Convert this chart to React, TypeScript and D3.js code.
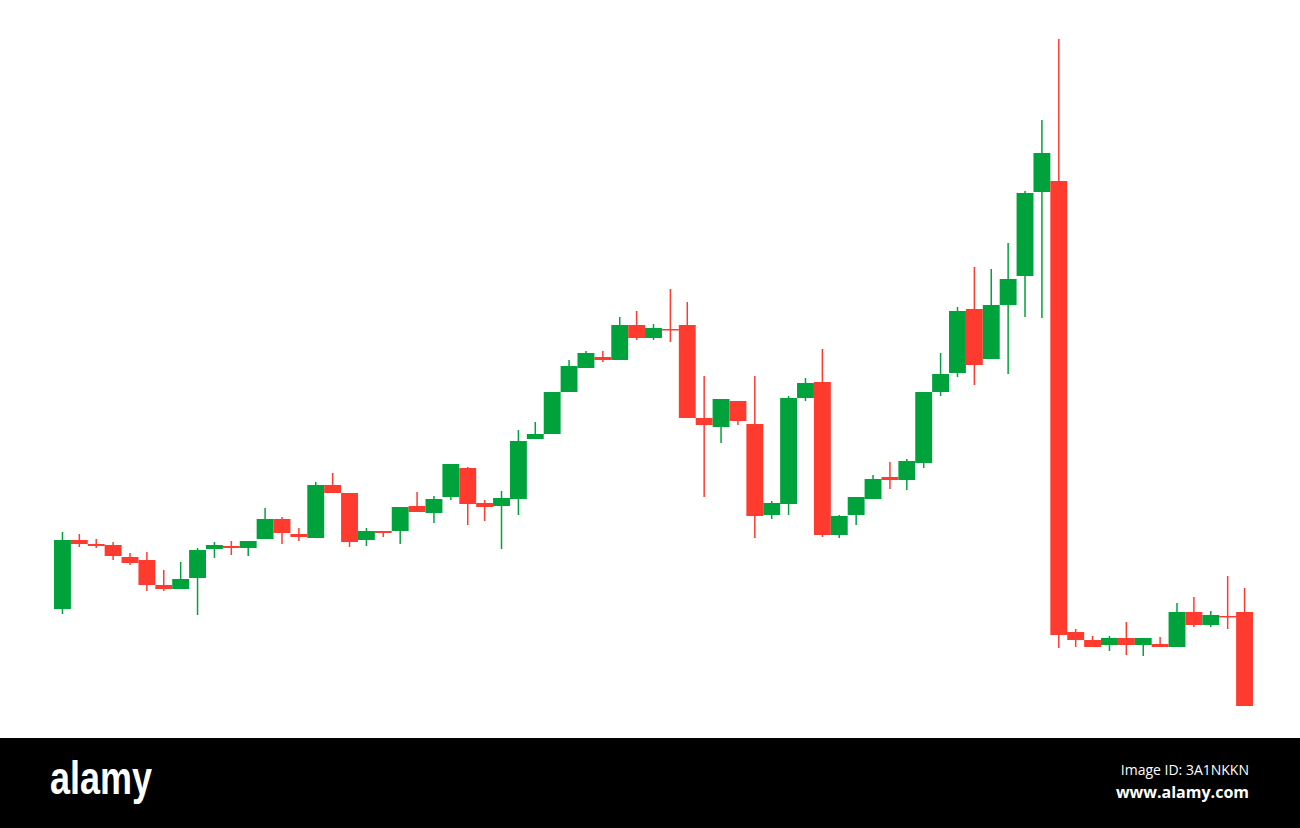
import { useEffect, useRef } from "react";
import * as d3 from "d3";

// OHLC values, one entry per session
const OPEN = [
  15.1, 22.0, 21.6, 21.5, 20.3, 20.0, 17.5, 17.1, 18.2, 21.1,
  21.4, 21.2, 22.1, 24.1, 22.6, 22.2, 27.5, 26.7, 22.0, 22.9,
  22.9, 25.4, 24.7, 26.3, 29.2, 25.7, 25.4, 26.1, 32.1, 32.6,
  36.8, 39.2, 40.3, 40.0, 43.5, 42.2, 43.1, 43.5, 34.2, 33.3,
  35.9, 33.6, 24.5, 25.6, 36.2, 37.8, 22.5, 24.5, 26.1, 28.3,
  28.0, 29.7, 36.8, 38.7, 45.1, 40.1, 45.5, 48.4, 56.8, 57.9,
  12.8, 12.0, 11.5, 12.2, 11.5, 11.6, 11.3, 14.8, 13.5, 14.4,
  14.8,
];
const HIGH = [
  22.8, 22.6, 22.1, 21.8, 20.7, 20.8, 19.0, 19.8, 21.2, 21.8,
  21.9, 21.9, 25.2, 24.3, 23.2, 27.8, 28.7, 26.7, 23.2, 22.9,
  25.3, 26.8, 26.4, 29.6, 29.3, 26.0, 26.9, 33.0, 33.8, 36.8,
  40.0, 40.9, 40.9, 44.3, 44.9, 43.6, 47.1, 45.8, 38.4, 36.1,
  35.9, 38.4, 25.9, 36.4, 38.2, 41.1, 24.5, 26.3, 28.5, 29.8,
  30.1, 36.8, 40.7, 45.3, 49.3, 49.1, 51.7, 56.9, 64.0, 72.1,
  13.1, 12.4, 12.4, 13.8, 12.2, 12.3, 15.7, 16.3, 14.9, 18.4,
  17.2,
];
const LOW = [
  14.6, 21.3, 21.2, 20.0, 19.5, 16.9, 16.9, 17.1, 14.5, 20.2,
  20.5, 20.4, 22.1, 21.6, 21.9, 22.2, 26.7, 21.3, 21.4, 22.3,
  21.6, 24.8, 23.7, 26.0, 23.5, 23.9, 21.1, 24.5, 32.1, 32.6,
  36.8, 39.2, 39.8, 40.0, 42.0, 42.0, 41.8, 34.2, 26.3, 31.7,
  33.5, 22.2, 24.1, 24.5, 35.9, 22.3, 22.2, 23.5, 26.1, 27.1,
  27.0, 29.2, 36.4, 38.3, 37.5, 40.1, 38.6, 44.3, 44.2, 11.2,
  11.3, 11.3, 10.9, 10.5, 10.4, 11.3, 11.3, 13.3, 13.3, 13.1,
  5.4,
];
const CLOSE = [
  22.0, 21.6, 21.4, 20.4, 19.7, 17.5, 17.1, 18.1, 21.0, 21.5,
  21.2, 21.9, 24.1, 22.7, 22.3, 27.5, 26.7, 21.8, 22.9, 22.7,
  25.3, 24.8, 26.1, 29.6, 25.6, 25.3, 26.2, 31.9, 32.6, 36.8,
  39.4, 40.7, 40.0, 43.5, 42.2, 43.2, 43.0, 34.2, 33.5, 36.1,
  33.9, 24.4, 25.7, 36.2, 37.7, 22.5, 24.4, 26.3, 28.1, 28.0,
  29.9, 36.8, 38.6, 44.9, 39.5, 45.5, 48.1, 56.7, 60.7, 12.5,
  12.0, 11.3, 12.2, 11.5, 12.2, 11.3, 14.8, 13.5, 14.5, 14.3,
  5.4,
];

const UP = "#00a23c";
const DOWN = "#ff3b30";

export default function App() {
  const svgRef = useRef<SVGSVGElement>(null);

  useEffect(() => {
    if (!svgRef.current) return;
    const W = 1300;
    const H = 828;
    const svg = d3.select(svgRef.current);
    svg.selectAll("*").remove();
    svg.attr("width", W).attr("height", H);

    svg.append("rect").attr("width", W).attr("height", H).attr("fill", "#ffffff");

    const candles = OPEN.map((o, i) => ({
      i,
      open: o,
      high: HIGH[i],
      low: LOW[i],
      close: CLOSE[i],
    }));

    const x = d3
      .scaleBand<number>()
      .domain(candles.map((d) => d.i))
      .range([54, 1253])
      .padding(0);
    const y = d3
      .scaleLinear()
      .domain([d3.min(LOW) as number, d3.max(HIGH) as number])
      .range([706, 39]);

    const colour = (d: { open: number; close: number }) =>
      d.close >= d.open ? UP : DOWN;

    const g = svg.append("g");

    // wicks
    g.selectAll("line.wick")
      .data(candles)
      .join("line")
      .attr("class", "wick")
      .attr("x1", (d) => (x(d.i) as number) + x.bandwidth() / 2)
      .attr("x2", (d) => (x(d.i) as number) + x.bandwidth() / 2)
      .attr("y1", (d) => y(d.high))
      .attr("y2", (d) => y(d.low))
      .attr("stroke", colour)
      .attr("stroke-width", 1.5);

    // bodies
    g.selectAll("rect.body")
      .data(candles)
      .join("rect")
      .attr("class", "body")
      .attr("x", (d) => x(d.i) as number)
      .attr("width", x.bandwidth())
      .attr("y", (d) => y(Math.max(d.open, d.close)))
      .attr("height", (d) => Math.max(1.5, Math.abs(y(d.open) - y(d.close))))
      .attr("fill", colour);

    // footer strip
    svg.append("rect").attr("x", 0).attr("y", 738).attr("width", W).attr("height", 90).attr("fill", "#000000");

    svg.append("text")
      .attr("x", 50)
      .attr("y", 794)
      .attr("fill", "#ffffff")
      .attr("font-family", "'Liberation Sans Narrow', 'Liberation Sans', Arial, sans-serif")
      .attr("font-weight", "bold")
      .attr("font-size", 46)
      .attr("textLength", 102)
      .attr("lengthAdjust", "spacingAndGlyphs")
      .text("alamy");

    svg.append("text")
      .attr("x", 1249)
      .attr("y", 775)
      .attr("text-anchor", "end")
      .attr("fill", "#ffffff")
      .attr("font-family", "'Open Sans', sans-serif")
      .attr("font-size", 14)
      .text("Image ID: 3A1NKKN");

    svg.append("text")
      .attr("x", 1249)
      .attr("y", 798)
      .attr("text-anchor", "end")
      .attr("fill", "#ffffff")
      .attr("font-family", "'Open Sans', sans-serif")
      .attr("font-weight", "bold")
      .attr("font-size", 16)
      .text("www.alamy.com");
  }, []);

  return (
    <div style={{ position: "fixed", left: 0, top: 0, width: 1300, height: 828 }}>
      <svg ref={svgRef} style={{ display: "block" }} />
    </div>
  );
}
